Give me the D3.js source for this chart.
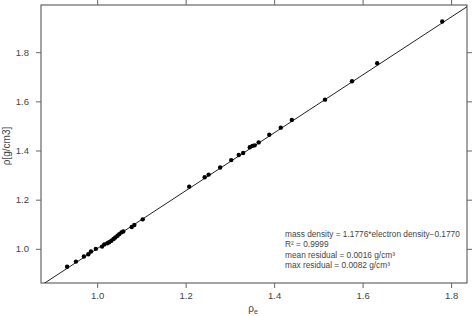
<!DOCTYPE html>
<html>
<head>
<meta charset="utf-8">
<script src="https://cdnjs.cloudflare.com/ajax/libs/d3/7.8.5/d3.min.js"></script>
<style>
  body { margin: 0; background: #fff; }
  svg { font-family: "Liberation Sans", Arial, sans-serif; }
  .axis text { fill: #444; font-size: 9.5px; }
  .axis line { stroke: #666; }
  .note { fill: #444; font-size: 8.3px; }
</style>
</head>
<body>
<svg width="474" height="316"></svg>
<script>
let svg = d3.select("svg");

let electronDensity = [0.932, 0.952, 0.970, 0.980, 0.986, 0.997, 1.011, 1.016, 1.023, 1.027,
    1.032, 1.037, 1.041, 1.046, 1.050, 1.055, 1.059, 1.078, 1.084, 1.103,
    1.208, 1.243, 1.252, 1.278, 1.303, 1.320, 1.330, 1.345, 1.351, 1.356,
    1.365, 1.389, 1.415, 1.440, 1.515, 1.576, 1.633, 1.780];
let massDensity = [0.927, 0.948, 0.969, 0.978, 0.989, 1.000, 1.009, 1.018, 1.023, 1.027,
    1.033, 1.040, 1.046, 1.053, 1.060, 1.067, 1.071, 1.089, 1.097, 1.120,
    1.253, 1.291, 1.302, 1.331, 1.361, 1.382, 1.390, 1.413, 1.419, 1.421,
    1.433, 1.464, 1.493, 1.524, 1.607, 1.682, 1.755, 1.925];

let xTicks = [1.0, 1.2, 1.4, 1.6, 1.8];
let yTicks = [1.0, 1.2, 1.4, 1.6, 1.8];

let fitSlope = 1.1776, fitIntercept = -0.1770;
let notes = [
    "mass density = 1.1776*electron density\u22120.1770",
    "R\u00b2 = 0.9999",
    "mean residual = 0.0016 g/cm\u00b3",
    "max residual = 0.0082 g/cm\u00b3"
];

let plot = {left: 41, right: 467, top: 5, bottom: 283};

let x = d3.scaleLinear().domain([0.873, 1.836]).range([plot.left, plot.right]);
let y = d3.scaleLinear().domain([0.861, 1.992]).range([plot.bottom, plot.top]);

let fmt = d3.format(".1f");

//axes on all four sides, labels only on bottom/left
svg.append("g").attr("class", "axis")
    .attr("transform", `translate(0,${plot.bottom})`)
    .call(d3.axisBottom(x).tickValues(xTicks).tickFormat(fmt).tickSize(5).tickSizeOuter(0).tickPadding(4))
    .call(g => g.select(".domain").remove());

svg.append("g").attr("class", "axis")
    .attr("transform", `translate(${plot.left},0)`)
    .call(d3.axisLeft(y).tickValues(yTicks).tickFormat(fmt).tickSize(5).tickSizeOuter(0).tickPadding(7))
    .call(g => g.select(".domain").remove());

svg.append("g").attr("class", "axis")
    .attr("transform", `translate(0,${plot.top})`)
    .call(d3.axisTop(x).tickValues(xTicks).tickFormat("").tickSize(5).tickSizeOuter(0))
    .call(g => g.select(".domain").remove());

svg.append("g").attr("class", "axis")
    .attr("transform", `translate(${plot.right},0)`)
    .call(d3.axisRight(y).tickValues(yTicks).tickFormat("").tickSize(5).tickSizeOuter(0))
    .call(g => g.select(".domain").remove());

svg.append("rect")
    .attr("x", plot.left).attr("y", plot.top)
    .attr("width", plot.right - plot.left).attr("height", plot.bottom - plot.top)
    .attr("fill", "none").attr("stroke", "#666").attr("stroke-width", 1.2);

// fit line, clipped to the plot box
svg.append("clipPath").attr("id", "clip")
    .append("rect")
    .attr("x", plot.left).attr("y", plot.top)
    .attr("width", plot.right - plot.left).attr("height", plot.bottom - plot.top);

let xd = x.domain();
svg.append("line")
    .attr("clip-path", "url(#clip)")
    .attr("x1", x(xd[0])).attr("y1", y(fitSlope * xd[0] + fitIntercept))
    .attr("x2", x(xd[1])).attr("y2", y(fitSlope * xd[1] + fitIntercept))
    .attr("stroke", "#222").attr("stroke-width", 1);

svg.append("g")
    .selectAll("circle")
    .data(electronDensity).enter().append("circle")
        .attr("cx", d => x(d))
        .attr("cy", (d, i) => y(massDensity[i]))
        .attr("r", 2.2)
        .attr("fill", "#000");

svg.append("g")
    .selectAll("text")
    .data(notes).enter().append("text")
        .attr("class", "note")
        .attr("x", 285)
        .attr("y", (d, i) => 236.5 + i * 10.6)
        .text(d => d);

svg.append("text")
    .attr("x", 253).attr("y", 312)
    .attr("text-anchor", "middle")
    .attr("fill", "#444").style("font-size", "10px")
    .text("\u03c1")
    .append("tspan").attr("dy", 2).style("font-size", "7px").text("e");

svg.append("text")
    .attr("transform", "translate(10,146) rotate(-90)")
    .attr("text-anchor", "middle")
    .attr("fill", "#444").style("font-size", "10px")
    .text("\u03c1[g/cm3]");
</script>
</body>
</html>
